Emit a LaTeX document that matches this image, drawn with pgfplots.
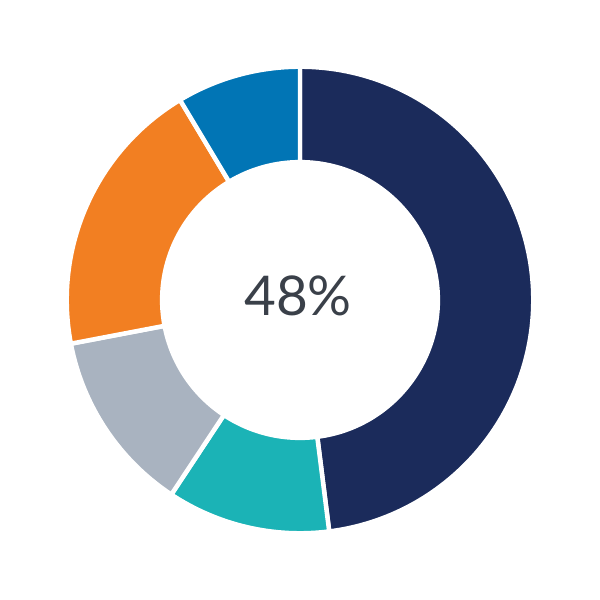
\documentclass[border=0pt]{standalone}
\usepackage{pgfplots}
\pgfplotsset{compat=1.18}
\usepackage{pgfplotstable}
\usepackage{fontspec}
\usetikzlibrary{calc}
\newfontfamily\labelfont{Lato}

\definecolor{cnavy}{HTML}{1B2B5B}
\definecolor{cteal}{HTML}{1BB3B6}
\definecolor{cgray}{HTML}{A9B3C0}
\definecolor{corange}{HTML}{F27F22}
\definecolor{cblue}{HTML}{0175B5}
\definecolor{ctext}{HTML}{3A4049}

% shares in percent, clockwise from 12 o'clock
\pgfplotstableread{
share colour
48.0 cnavy
11.3 cteal
12.7 cgray
19.4 corange
8.6 cblue
}\donutdata

\begin{document}
\begin{tikzpicture}
\begin{axis}[
    hide axis,
    scale only axis,
    width=8cm, height=8cm,
    xmin=-300, xmax=300,
    ymin=-300, ymax=300,
    clip=false,
]
\pgfplotsextra{
  \def\cum{0}
  \def\Rout{88.5pt}
  \def\Rin{52.3pt}
  \pgfplotstablegetrowsof{\donutdata}
  \pgfmathtruncatemacro\lastrow{\pgfplotsretval-1}
  \pgfplotsforeachungrouped \i in {0,...,\lastrow}{
    \pgfplotstablegetelem{\i}{share}\of\donutdata \let\v\pgfplotsretval
    \pgfplotstablegetelem{\i}{colour}\of\donutdata \let\c\pgfplotsretval
    \pgfmathsetmacro\a{90-3.6*\cum}
    \pgfmathsetmacro\b{90-3.6*(\cum+\v)}
    \filldraw[fill=\c, draw=white, line width=1.7pt, line join=miter]
      ($(axis cs:0,0)+(\a:\Rout)$) arc[start angle=\a, end angle=\b, radius=\Rout]
      -- ($(axis cs:0,0)+(\b:\Rin)$) arc[start angle=\b, end angle=\a, radius=\Rin]
      -- cycle;
    \pgfmathsetmacro\cum{\cum+\v}
  }
  \path (axis cs:-300,-300) rectangle (axis cs:300,300);
}
\node[text=ctext, inner sep=0pt] at (axis cs:-2,4) {\labelfont\fontsize{20.8}{25}\selectfont 48\%};
\end{axis}
\end{tikzpicture}
\end{document}
